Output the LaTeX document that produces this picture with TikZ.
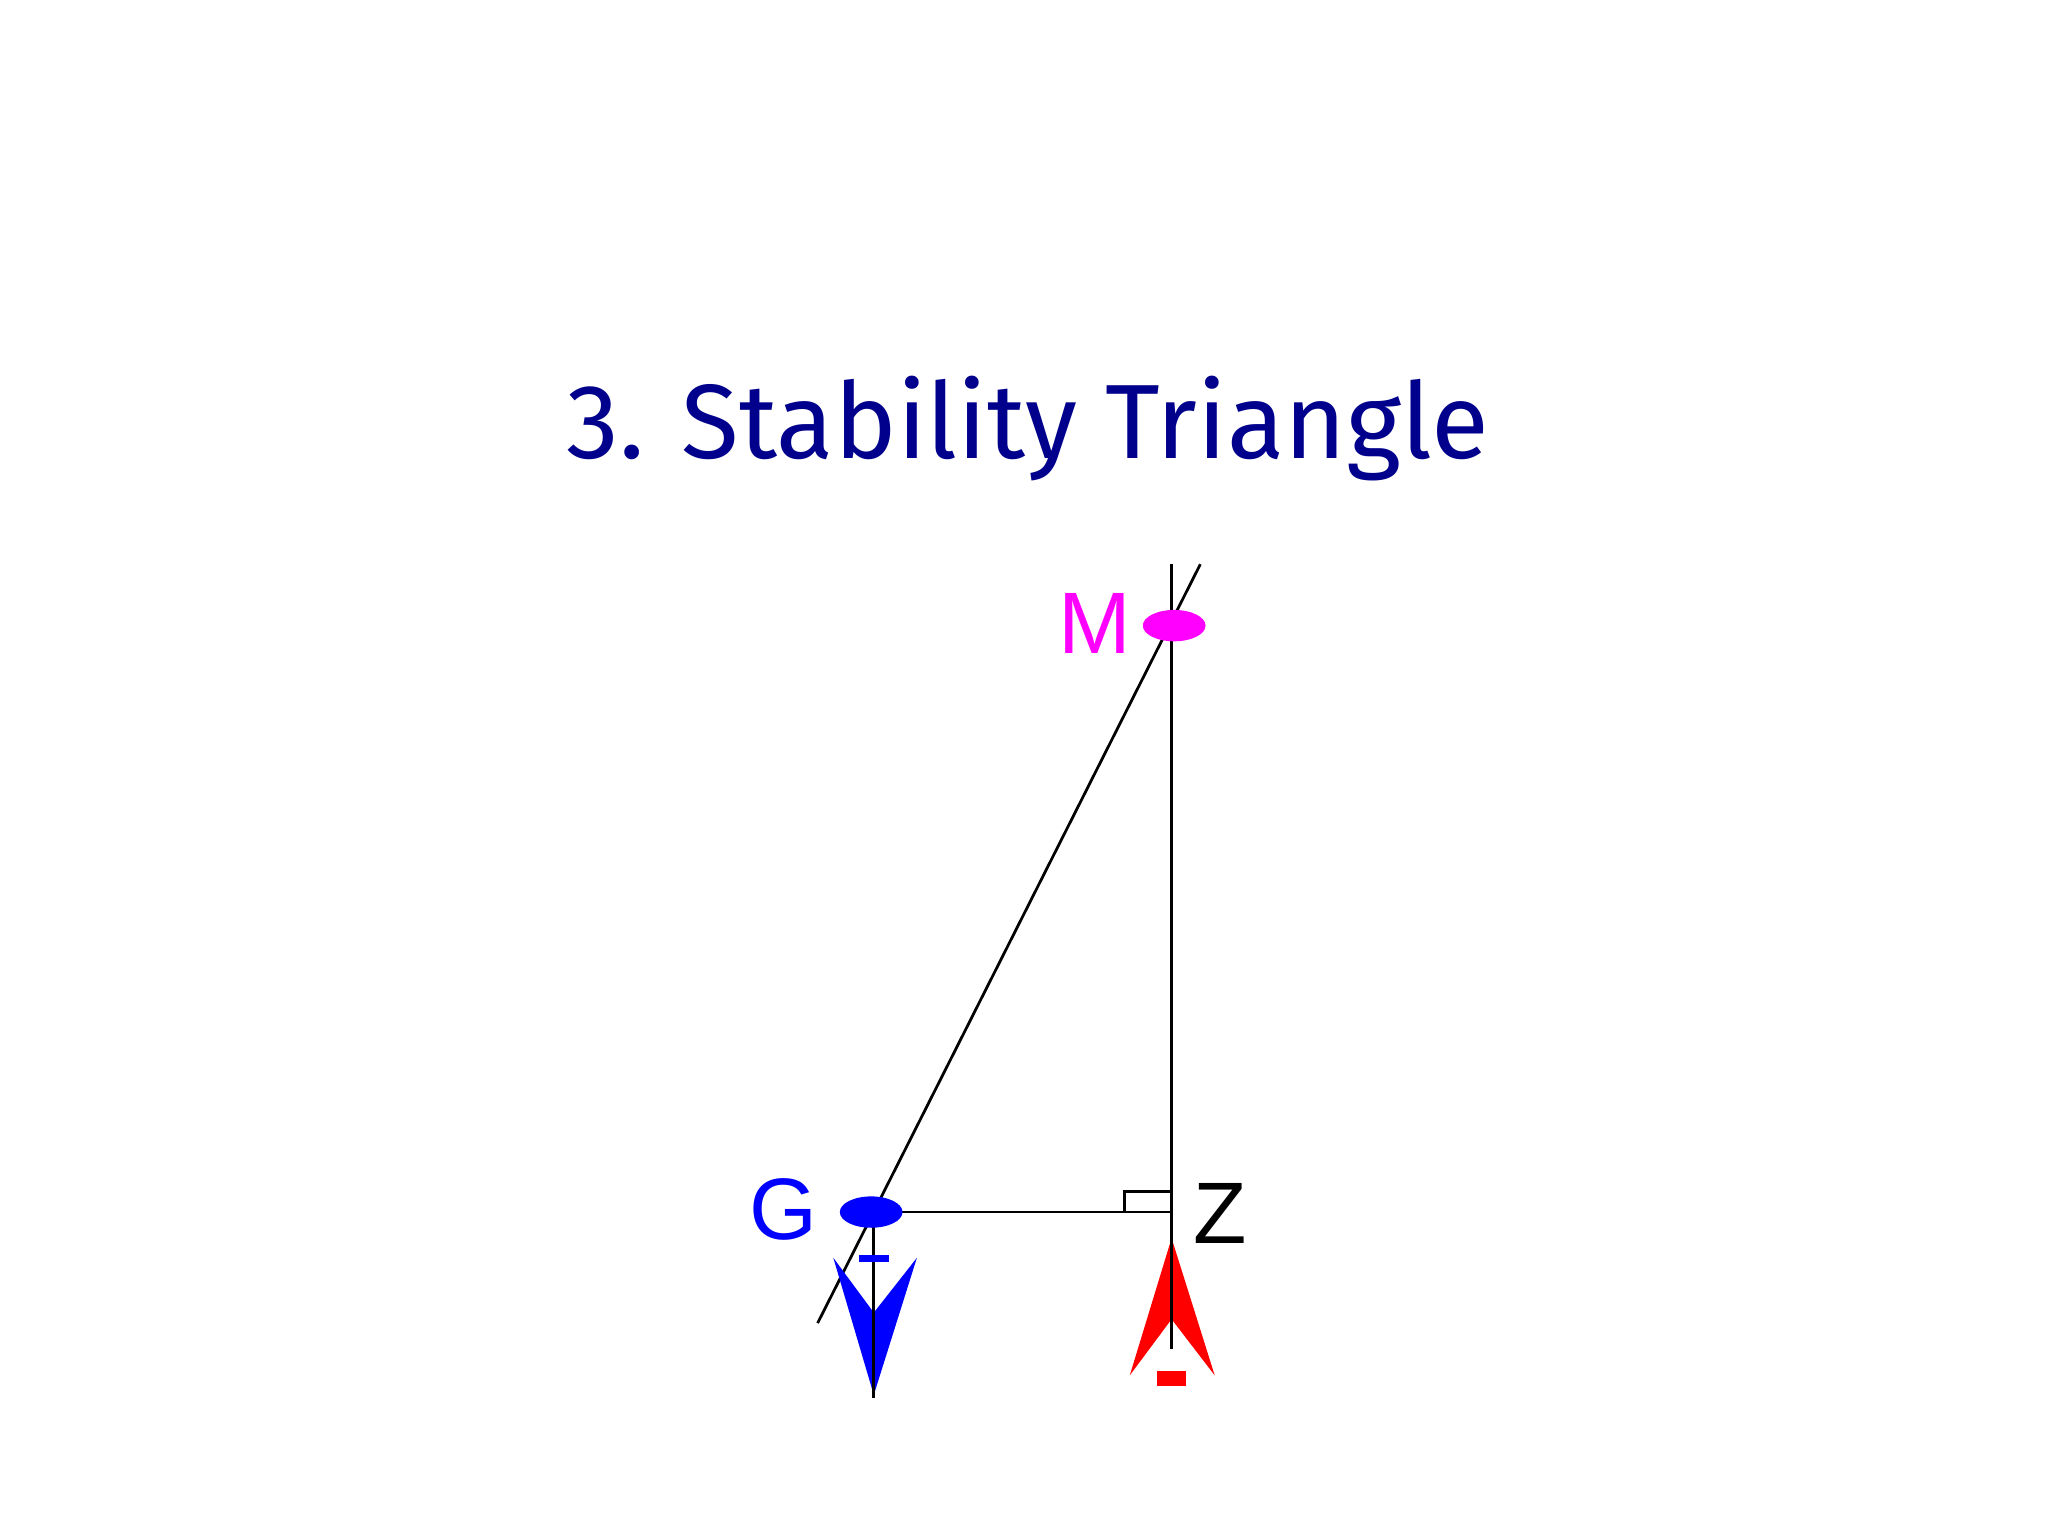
\documentclass[tikz,border=0pt]{standalone}
\usepackage{fontspec}
\setmainfont{Liberation Sans}
\newfontfamily\titlefont{Fira Sans}
\begin{document}
\begin{tikzpicture}[x=0.01cm,y=-0.01cm]
\useasboundingbox (0,0) rectangle (1568,1176);
\definecolor{navy}{RGB}{0,0,140}
\definecolor{pmag}{RGB}{255,0,255}
\tikzset{thin line/.style={draw=black,line width=0.6pt},
  lbl/.style={font=\fontsize{19}{22}\selectfont}}
\node (title) at (787,328) {\titlefont\color{navy}\fontsize{23}{28}\selectfont 3. Stability Triangle};
\coordinate (Mtop) at (897,432);
\coordinate (Mbot) at (897,1033);
\coordinate (Stop) at (919,432);
\coordinate (Sbot) at (626,1013);
\coordinate (Gc) at (667,928);
\coordinate (Zc) at (897,928);
\draw[thin line] (Mtop) -- (Mbot);
\draw[thin line] (Stop) -- (Sbot);
\draw[thin line] (Gc) -- (Zc);
\draw[thin line] (861,928) -- (861,912) -- (897,912);
\fill[blue] (638,963) -- (669,1068) -- (702,963) -- (669,1005) -- cycle;
\draw[thin line] (669,928) -- (669,1070);
\fill[blue] (658,961) rectangle (681,966);
\fill[red] (897,948) -- (865,1053) -- (897,1010) -- (930,1053) -- cycle;
\draw[thin line] (897,948) -- (897,1033);
\fill[red] (886,1050) rectangle (908,1061);
\fill[pmag] (899,479) ellipse [x radius=24,y radius=12];
\fill[blue] (667,928) ellipse [x radius=24,y radius=12];
\node[text=pmag,lbl] (Ml) at (838,477) {M};
\node[text=blue,lbl] (Gl) at (600,926) {G};
\node[text=black,lbl] (Zl) at (934,929) {Z};
\end{tikzpicture}
\end{document}
